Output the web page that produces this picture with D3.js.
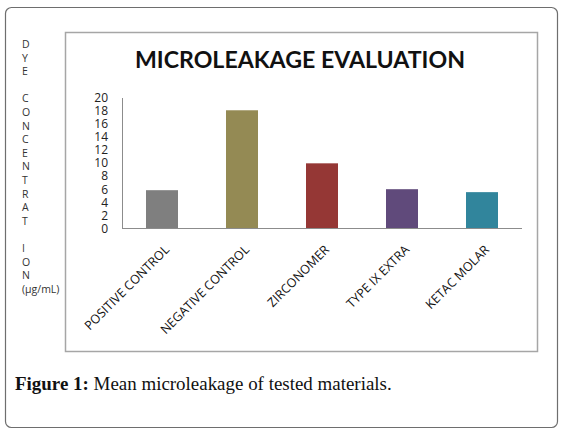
<!DOCTYPE html>
<meta charset="utf-8">
<html>
<head>
  <style>
    body { margin: 0; background: #fff; }
    .ylab { font: 10.5px "Open Sans", sans-serif; fill: #333; }
    .tick text { font: 12px "Open Sans", sans-serif; fill: #222; }
    .xlab { font: 12.5px "Open Sans", sans-serif; fill: #111; }
    .title { font-family: Lato, sans-serif; font-weight: bold; font-size: 22px; fill: #111; }
    .caption { font-family: "Liberation Serif", serif; font-size: 17px; fill: #111; }
  </style>
</head>
<body>
<svg width="564" height="435"></svg>

<script src="https://d3js.org/d3.v7.min.js"></script>
<script>

// chart data
const categories = ["POSITIVE CONTROL", "NEGATIVE CONTROL", "ZIRCONOMER", "TYPE IX EXTRA", "KETAC MOLAR"];
const values = [5.85, 18.05, 9.95, 6.0, 5.55];
const colors = ["#7f7f7f", "#948a54", "#953735", "#604a7b", "#31859c"];
const yTicks = [0, 2, 4, 6, 8, 10, 12, 14, 16, 18, 20];
const yLabelLines = ["D", "Y", "E", "", "C", "O", "N", "C", "E", "N", "T", "R", "A", "T", "", "I", "O", "N", "(\u00b5g/mL)"];

const svg = d3.select("svg");

// outer figure frame
svg.append("rect")
  .attr("x", 5.5).attr("y", 7.5)
  .attr("width", 552).attr("height", 420)
  .attr("rx", 6)
  .attr("fill", "none")
  .attr("stroke", "#6e6e6e")
  .attr("stroke-width", 1.2);

// inner chart box
svg.append("rect")
  .attr("x", 65.5).attr("y", 32.5)
  .attr("width", 472).attr("height", 319)
  .attr("fill", "#fff")
  .attr("stroke", "#a6a6a6")
  .attr("stroke-width", 1.5);

// scales
const x = d3.scaleBand()
  .domain(categories)
  .range([122, 522])
  .paddingInner(0.6)
  .paddingOuter(0.3);

const y = d3.scaleLinear()
  .domain([0, 20])
  .range([228.5, 97.5]);

// title
svg.append("text")
  .attr("class", "title")
  .attr("x", 300).attr("y", 68)
  .attr("text-anchor", "middle")
  .attr("textLength", 330)
  .attr("lengthAdjust", "spacingAndGlyphs")
  .text("MICROLEAKAGE EVALUATION");

// bars
svg.selectAll(".bar")
  .data(categories)
  .join("rect")
  .attr("class", "bar")
  .attr("x", d => x(d))
  .attr("width", x.bandwidth())
  .attr("y", (d, i) => y(values[i]))
  .attr("height", (d, i) => y(0) - y(values[i]))
  .attr("fill", (d, i) => colors[i]);

// y axis
const yAxis = svg.append("g")
  .attr("transform", "translate(122,0)")
  .call(d3.axisLeft(y).tickValues(yTicks).tickSize(0).tickPadding(14));
yAxis.select(".domain").attr("stroke", "#8c8c8c");

// x axis line
svg.append("line")
  .attr("x1", 122).attr("x2", 522)
  .attr("y1", y(0)).attr("y2", y(0))
  .attr("stroke", "#8c8c8c");

// rotated category labels
svg.selectAll(".xlab")
  .data(categories)
  .join("text")
  .attr("class", "xlab")
  .attr("text-anchor", "end")
  .attr("transform", d => `translate(${x(d) + x.bandwidth() / 2 + 8},${y(0) + 22}) rotate(-45)`)
  .text(d => d);

// stacked y axis title
svg.append("g").selectAll("text")
  .data(yLabelLines)
  .join("text")
  .attr("class", "ylab")
  .attr("x", 22)
  .attr("y", (d, i) => 48 + i * 13.6)
  .text(d => d);

// caption
const cap = svg.append("text")
  .attr("class", "caption")
  .attr("x", 15).attr("y", 390);
cap.append("tspan").attr("font-weight", "bold").text("Figure 1:");
cap.append("tspan").text(" Mean microleakage of tested materials.");

// fit caption width to the picture (about 377px)
const capLen = cap.node().getComputedTextLength();
cap.style("font-size", (17 * 377 / capLen).toFixed(2) + "px");

</script>
</body>
</html>
